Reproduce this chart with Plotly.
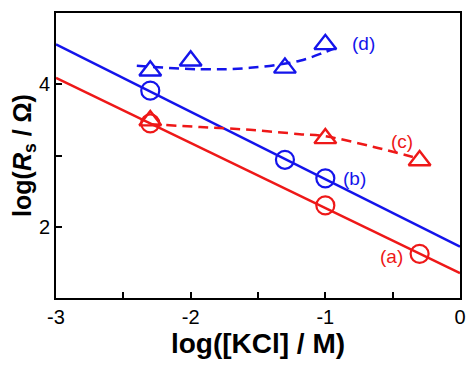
import plotly.graph_objects as go

RED = "rgb(238,24,24)"
BLUE = "rgb(20,20,235)"
FONT = "Liberation Sans, Arial"

# (a) red circles and fit line
a_x = [-2.3, -1.0, -0.3]
a_y = [3.45, 2.30, 1.62]
a_fit_x = [-3.0, 0.0]
a_fit_y = [4.09, 1.35]

# (b) blue circles and fit line
b_x = [-2.3, -1.3, -1.0]
b_y = [3.91, 2.94, 2.68]
b_fit_x = [-3.0, 0.0]
b_fit_y = [4.56, 1.72]

# (c) red triangles and dashed guide
c_x = [-2.3, -1.0, -0.3]
c_y = [3.49, 3.24, 2.93]
c_curve_x = [-2.3, -1.93, -1.56, -1.19, -1.0, -0.64, -0.35]
c_curve_y = [3.44, 3.40, 3.36, 3.30, 3.27, 3.12, 2.98]

# (d) blue triangles and dashed guide
d_x = [-2.3, -2.0, -1.3, -1.0]
d_y = [4.19, 4.33, 4.23, 4.56]
d_curve_x = [-2.4, -1.93, -1.56, -1.19, -0.99, -0.89]
d_curve_y = [4.26, 4.21, 4.23, 4.33, 4.46, 4.53]

labels_text = ["(a)", "(b)", "(c)", "(d)"]
labels_x = [-0.51, -0.78, -0.43, -0.72]
labels_y = [1.58, 2.68, 3.19, 4.57]
labels_col = [RED, BLUE, RED, BLUE]

fig = go.Figure()

fig.add_trace(go.Scatter(x=a_fit_x, y=a_fit_y, mode="lines",
                         line=dict(color=RED, width=2.5)))
fig.add_trace(go.Scatter(x=b_fit_x, y=b_fit_y, mode="lines",
                         line=dict(color=BLUE, width=2.5)))
fig.add_trace(go.Scatter(x=c_curve_x, y=c_curve_y, mode="lines",
                         line=dict(color=RED, width=2.5, dash="10px,6px", shape="spline")))
fig.add_trace(go.Scatter(x=d_curve_x, y=d_curve_y, mode="lines",
                         line=dict(color=BLUE, width=2.5, dash="10px,6px", shape="spline")))

fig.add_trace(go.Scatter(x=a_x, y=a_y, mode="markers",
                         marker=dict(symbol="circle-open", size=18, color=RED,
                                     line=dict(width=2.2, color=RED))))
fig.add_trace(go.Scatter(x=b_x, y=b_y, mode="markers",
                         marker=dict(symbol="circle-open", size=18, color=BLUE,
                                     line=dict(width=2.2, color=BLUE))))
fig.add_trace(go.Scatter(x=c_x, y=c_y, mode="markers",
                         marker=dict(symbol="triangle-up-open", size=19, color=RED,
                                     line=dict(width=2.4, color=RED))))
fig.add_trace(go.Scatter(x=d_x, y=d_y, mode="markers",
                         marker=dict(symbol="triangle-up-open", size=19, color=BLUE,
                                     line=dict(width=2.4, color=BLUE))))

for t, x, y, c in zip(labels_text, labels_x, labels_y, labels_col):
    fig.add_annotation(x=x, y=y, text=t, showarrow=False,
                       font=dict(family=FONT, size=19, color=c))

axis_common = dict(
    showgrid=False, zeroline=False, showline=True, mirror=True, automargin=False,
    linecolor="black", linewidth=2, ticks="inside", ticklen=6, tickwidth=2,
    tickcolor="black",
    tickfont=dict(family=FONT, size=20, color="black"),
)

fig.update_xaxes(range=[-3, 0], tickmode="array", tickvals=[-3, -2, -1, 0],
                 ticktext=["-3", "-2", "-1", "0"],
                 minor=dict(tickvals=[-2.5, -1.5, -0.5], ticks="inside", ticklen=6,
                            tickwidth=2, tickcolor="black"),
                 title=dict(text="<b>log([KCl] / M)</b>", standoff=6,
                            font=dict(family=FONT, size=28, color="black")),
                 **axis_common)
fig.update_yaxes(range=[1, 5], tickmode="array", tickvals=[2, 4], ticktext=["2", "4"],
                 minor=dict(tickvals=[3], ticks="inside", ticklen=6,
                            tickwidth=2, tickcolor="black"),
                 title=dict(text="<b>log(<i>R</i><sub>s</sub> / Ω)</b>", standoff=4,
                            font=dict(family=FONT, size=25, color="black")),
                 **axis_common)

fig.update_layout(width=474, height=366, showlegend=False,
                  plot_bgcolor="white", paper_bgcolor="white",
                  margin=dict(l=48, r=22, t=5, b=76))

fig.write_html("out.html")
